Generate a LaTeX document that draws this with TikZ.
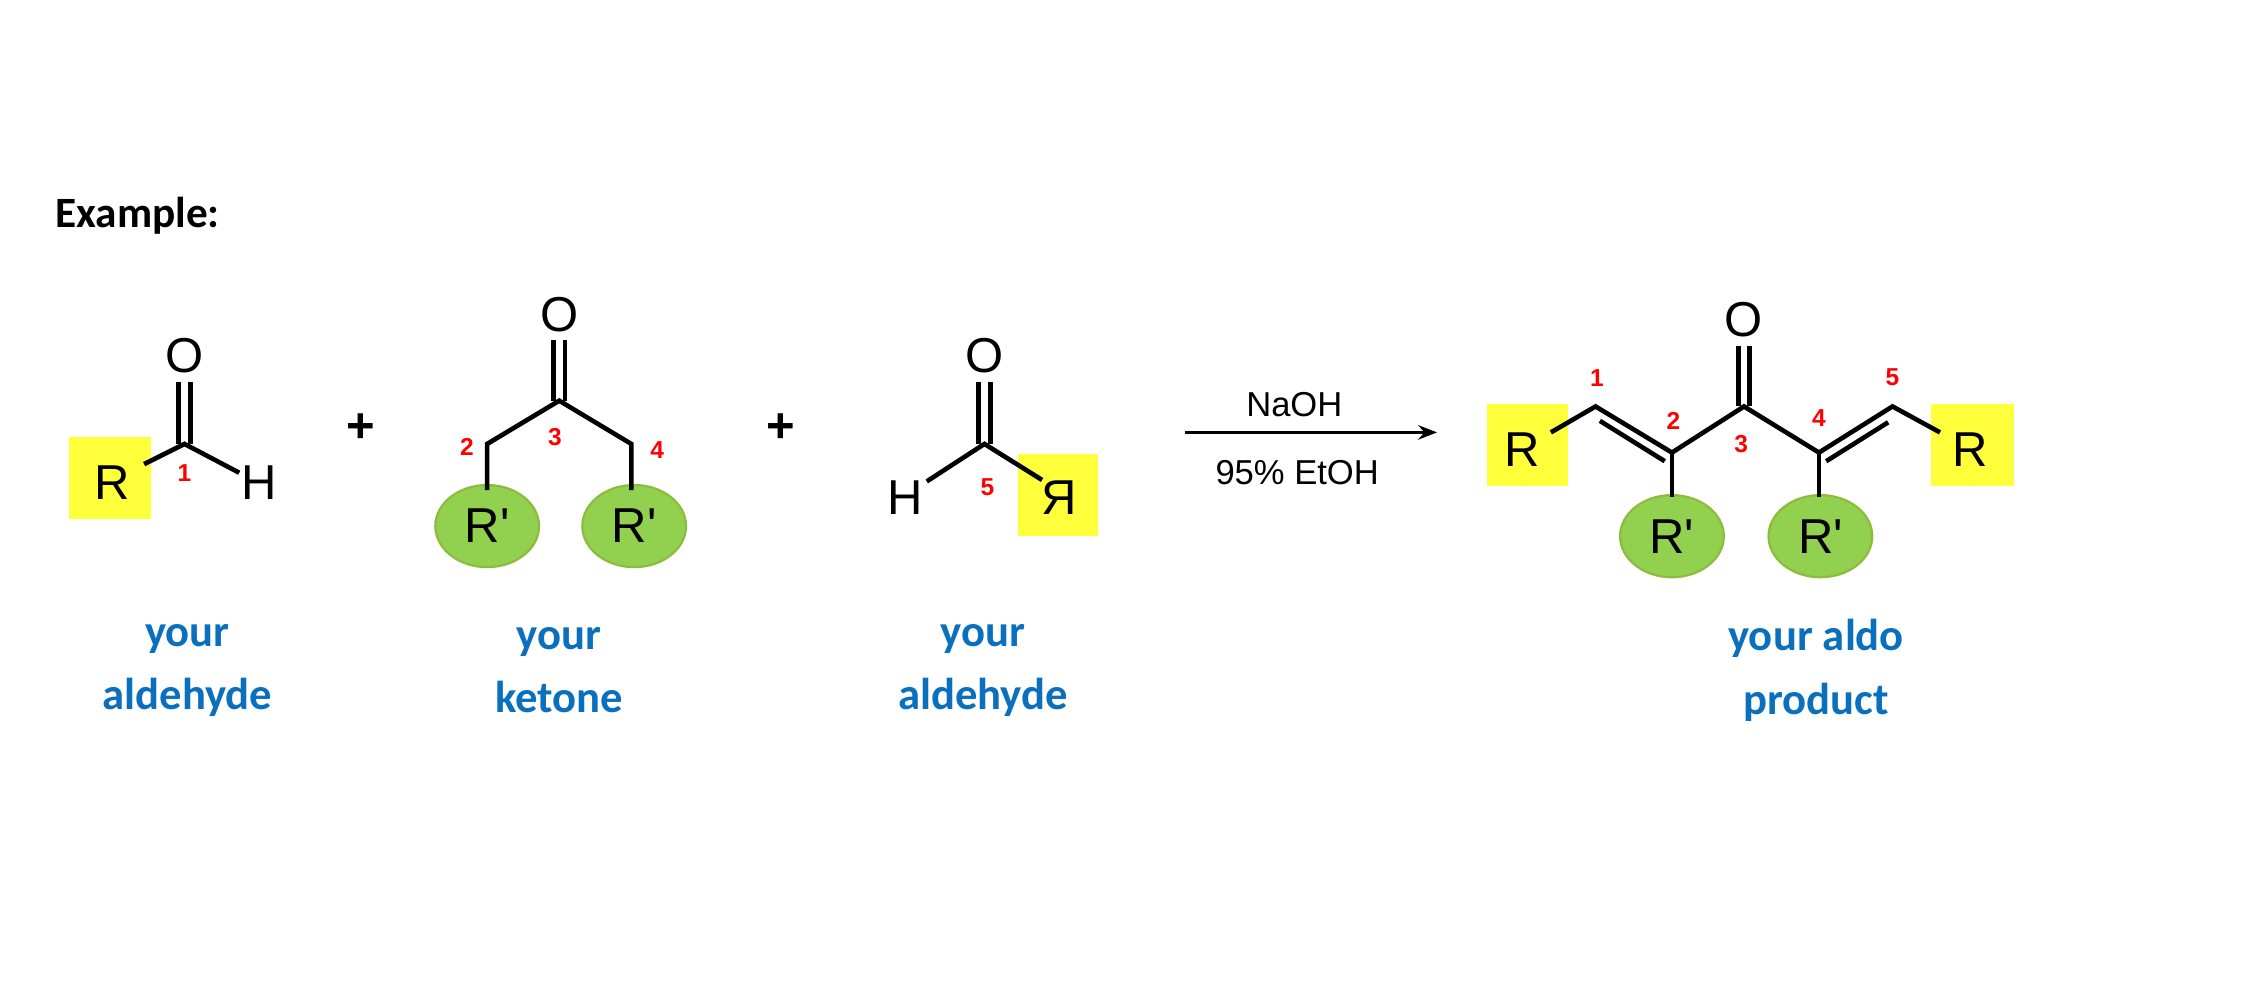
\documentclass[tikz,border=0pt]{standalone}
\usepackage{fontspec}
\usetikzlibrary{shapes.geometric,arrows.meta}
\setmainfont{Liberation Sans}
\newfontfamily\carlitofont{Carlito}
\begin{document}
\begin{tikzpicture}[x=1pt,y=-1pt,
  bond/.style={line width=3.2pt},
  atom/.style={font=\fontsize{34}{36}\selectfont,inner sep=0pt},
  num/.style={font=\fontsize{17}{18}\selectfont\bfseries,text=red,inner sep=0pt},
  hl/.style={fill=hlyellow,draw=none},
  rp/.style={ellipse,fill=rgreen,draw=rgreenb,line width=1.5pt,minimum width=72pt,minimum height=57pt,inner sep=0pt,font=\fontsize{34}{36}\selectfont},
  lbl/.style={font=\carlitofont\bfseries\fontsize{31}{44}\selectfont,text=lblue,align=center},
  plus/.style={font=\bfseries\fontsize{34}{36}\selectfont}]
\definecolor{hlyellow}{HTML}{FFFF3B}
\definecolor{rgreen}{HTML}{92D050}
\definecolor{rgreenb}{HTML}{8DBB3C}
\definecolor{lblue}{HTML}{0A70BE}
\useasboundingbox (0,0) rectangle (1568,698);
\node[font=\carlitofont\bfseries\fontsize{30}{32}\selectfont,anchor=west] (ex) at (35,150) {Example:};
% aldehyde 1
\fill[hl] (48,303) rectangle (105,360);
\node[atom] (r1) at (78,335) {R};
\node[atom] (o1) at (128,247) {O};
\node[atom] (h1) at (180,335) {H};
\coordinate (c1) at (128,308);
\draw[bond] (100,322) -- (c1) -- (166,328);
\draw[bond] (124,308) -- (124,265) (132,308) -- (132,265);
\node[num] (n1) at (128,328) {1};
\node[plus] (p1) at (250,297) {+};
% ketone
\node[atom] (o2) at (388,218) {O};
\coordinate (k3) at (388,278);
\coordinate (k2) at (338,308);
\coordinate (k4) at (438,308);
\draw[bond] (384,278) -- (384,236) (392,278) -- (392,236);
\node[rp] (e1) at (338,365) {R\textquotesingle};
\node[rp] (e2) at (440,365) {R\textquotesingle};
\draw[bond] (338,340) -- (k2) -- (k3) -- (k4) -- (438,340);
\node[num] (n2) at (324,310) {2};
\node[num] (n3) at (385,303) {3};
\node[num] (n4) at (456,312) {4};
\node[plus] (p2) at (542,297) {+};
% aldehyde 2
\fill[hl] (706,315) rectangle (762,372);
\node[atom] (o3) at (683,247) {O};
\node[atom] (h2) at (628,345) {H};
\node[atom] (r2) at (735,345) {Я};
\coordinate (c5) at (683,308);
\draw[bond] (643,334) -- (c5) -- (723,333);
\draw[bond] (679,308) -- (679,265) (687,308) -- (687,265);
\node[num] (n5) at (685,338) {5};
% arrow
\coordinate (a1) at (822,300);
\coordinate (a2) at (997,300);
\draw[line width=2.2pt,-{Stealth[length=13pt,width=10pt]}] (a1) -- (a2);
\node[font=\fontsize{24}{26}\selectfont] (naoh) at (898,281) {NaOH};
\node[font=\fontsize{24}{26}\selectfont] (etoh) at (900,328) {95\% EtOH};
% product
\fill[hl] (1032,280) rectangle (1088,337);
\fill[hl] (1340,280) rectangle (1397,337);
\node[atom] (r3) at (1056,312) {R};
\node[atom] (r4) at (1367,312) {R};
\node[atom] (o4) at (1210,222) {O};
\coordinate (q1) at (1107,282);
\coordinate (q2) at (1160,314);
\coordinate (q3) at (1210,282);
\coordinate (q4) at (1262,314);
\coordinate (q5) at (1313,282);
\node[rp] (e3) at (1160,372) {R\textquotesingle};
\node[rp] (e4) at (1263,372) {R\textquotesingle};
\draw[bond] (1076,300) -- (q1) -- (q2) -- (q3) -- (q4) -- (q5) -- (1346,300);
\draw[bond] (1110,292) -- (1155,320);
\draw[bond] (1267,320) -- (1310,293);
\draw[bond] (1206,282) -- (1206,240) (1214,282) -- (1214,240);
\draw[bond] (q2) -- (1160,345) (q4) -- (1262,345);
\node[num] (m1) at (1108,262) {1};
\node[num] (m2) at (1161,292) {2};
\node[num] (m3) at (1208,308) {3};
\node[num] (m4) at (1262,290) {4};
\node[num] (m5) at (1313,262) {5};
% labels
\node[lbl] (l1) at (130,465) {your\\aldehyde};
\node[lbl] (l2) at (388,465) {your\\ketone};
\node[lbl] (l3) at (682,465) {your\\aldehyde};
\node[lbl] (l4) at (1260,465) {your aldo\\product};
\end{tikzpicture}
\end{document}
